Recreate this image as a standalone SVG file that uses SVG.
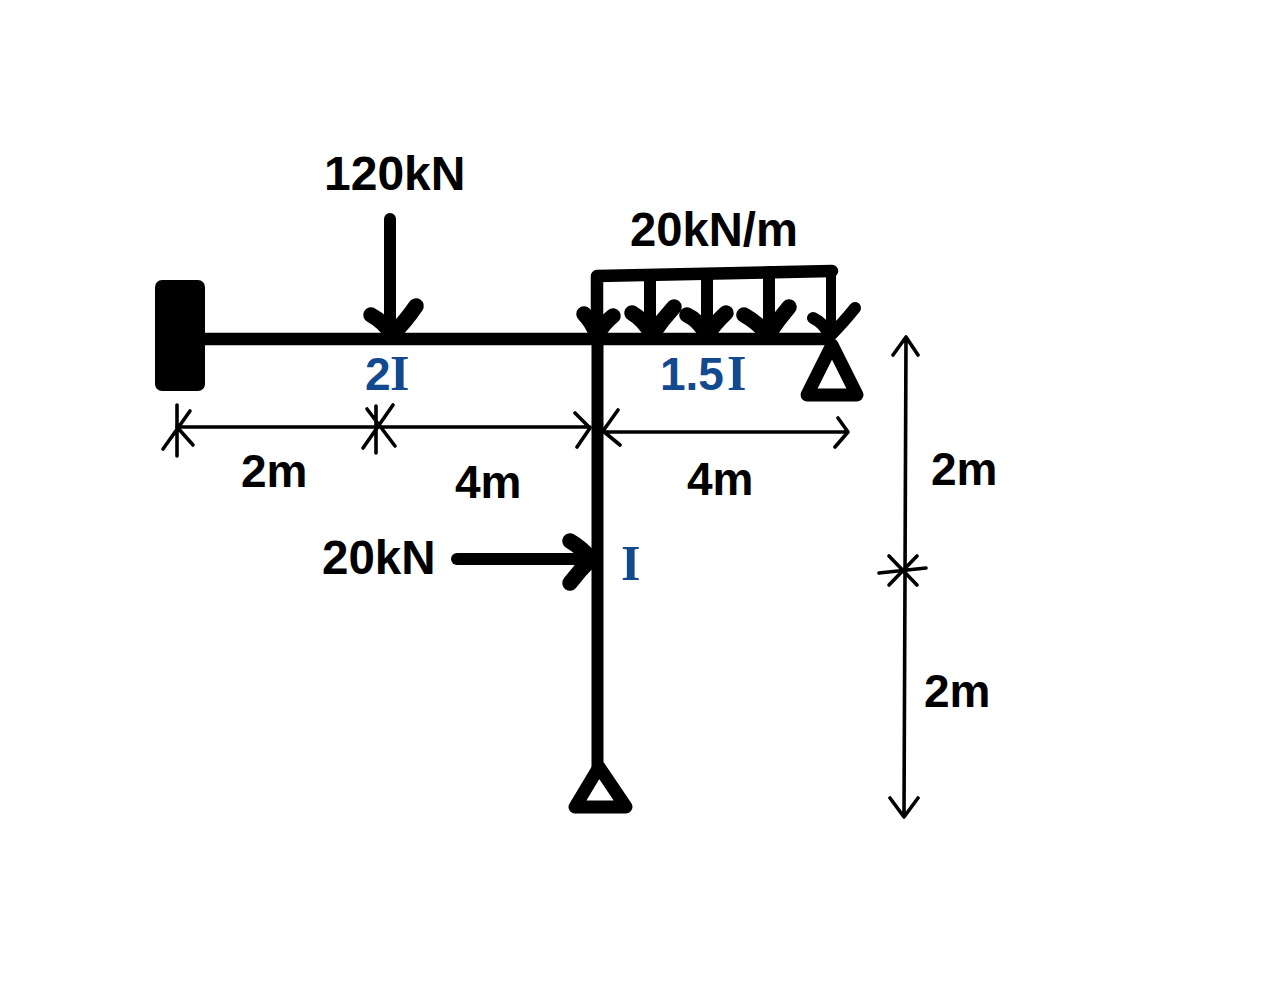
<svg xmlns="http://www.w3.org/2000/svg" width="1269" height="1000" viewBox="0 0 1269 1000">
<style>
.m{fill:none;stroke:#000;stroke-width:12;stroke-linecap:round;stroke-linejoin:round}
.h{fill:none;stroke:#000;stroke-width:15.500;stroke-linecap:round;stroke-linejoin:round}
.d{fill:none;stroke:#000;stroke-width:3.6;stroke-linecap:round;stroke-linejoin:round}
.t{font-family:"Liberation Sans",Arial,sans-serif;font-weight:700;font-size:46px;fill:#000}
.b{font-family:"Liberation Sans",Arial,sans-serif;font-weight:700;font-size:46px;fill:#12498f}
.i{font-family:"Liberation Serif","Times New Roman",serif;font-weight:700;font-size:50px;fill:#12498f}
</style>
<rect width="1269" height="1000" fill="#fff"/>
<g id="structure">
<rect id="fixed-support" x="155" y="280" width="50" height="111" rx="7" fill="#000"/>
<path id="beam" d="M204 339H830" style="fill:none;stroke:#000;stroke-width:12.5"/>
<path id="column" d="M597.500 339V770" style="fill:none;stroke:#000;stroke-width:12"/>
</g>
<g id="support-right"><path class="m" style="stroke-width:13" d="M832 345L807 395H857Z"/></g>
<g id="support-bottom"><path class="m" style="stroke-width:13" d="M599 767L575 807H626Z"/></g>
<g id="connectors">
<g id="load-120kN"><path class="m" d="M390 219V333"/><path class="h" d="M371 315Q384 322 392 335Q405 322 416 306"/></g>
<g id="load-udl">
<path class="m" d="M597 335V276L832 271" style="stroke-width:12.500"/>
<path class="m" d="M650 275V333M707 274V333M769 272V333"/>
<path class="m" style="stroke-width:10" d="M831 272V335"/>
<path class="h" d="M584 314Q592 322 597 335Q604 323 613 316"/>
<path class="h" d="M632 313Q644 320 652 335Q662 320 674 307"/>
<path class="h" d="M687 315Q698 320 707 335Q716 322 726 313"/>
<path class="h" d="M744 315Q757 322 768 335Q778 320 789 307"/>
<path class="m" d="M813 318Q824 323 830 336Q842 324 855 308"/>
</g>
<g id="load-20kN"><path class="m" d="M457 559H588"/><path class="h" d="M570 541Q582 548 591 559Q580 570 570 583"/></g>
<g id="dim-horizontal">
<path class="d" d="M177 427H590M575 413L590 428L577 447"/>
<path class="d" d="M177 405V456M163 449L190 411M177 427L193 445"/>
<path class="d" d="M376 406V453M363 448L393 405M367 409L395 446"/>
<path class="d" d="M603 432H848M838 418L848 432L835 447M618 410L603 431L620 445"/>
</g>
<g id="dim-vertical">
<path class="d" d="M906 338L904 816M893 355L906 337L918 355M890 798L904 817L918 798"/>
<path class="d" d="M879 573L926 568M889 556L917 585M889 585L917 556"/>
</g>
</g>
<g id="labels">
<text class="t" x="324" y="190" style="font-size:48px">120kN</text>
<text class="t" x="630" y="246" style="font-size:47.200px">20kN/m</text>
<text class="t" x="241" y="487">2m</text>
<text class="t" x="455" y="498">4m</text>
<text class="t" x="687" y="495">4m</text>
<text class="t" x="322" y="574" style="font-size:47.500px">20kN</text>
<text class="t" x="931" y="485">2m</text>
<text class="t" x="924" y="707">2m</text>
<text class="b" x="365" y="390">2</text>
<text class="i" x="390" y="390">I</text>
<text class="b" x="660" y="390">1.5</text>
<text class="i" x="727" y="390">I</text>
<text class="i" x="621" y="580">I</text>
</g>
</svg>
